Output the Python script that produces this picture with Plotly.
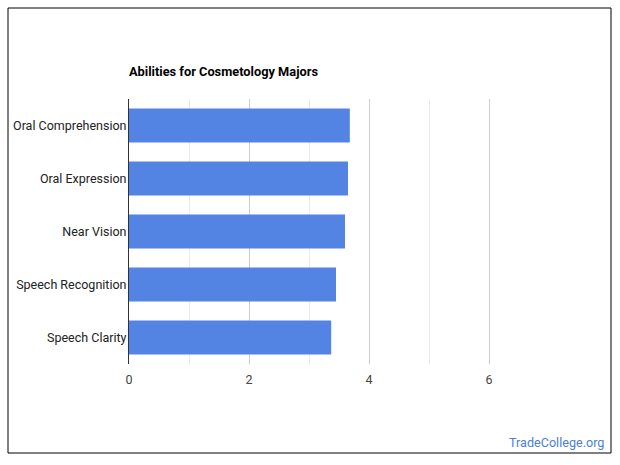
import plotly.graph_objects as go

categories = ["Oral Comprehension", "Oral Expression", "Near Vision", "Speech Recognition", "Speech Clarity"]
values = [3.68, 3.65, 3.6, 3.45, 3.37]
x_ticks = [0, 2, 4, 6]

W, H = 620, 465
L, R, T, B = 129, 71, 99, 101
pw, ph = W - L - R, H - T - B

def px(x):
    return (x - L) / pw

def py(y):
    return 1 - (y - T) / ph

fig = go.Figure(go.Bar(
    y=categories, x=values, orientation="h",
    marker=dict(color="#5384e4", line=dict(width=0)),
    hoverinfo="x+y",
))

fig.update_layout(
    width=W, height=H,
    margin=dict(l=L, r=R, t=T, b=B, autoexpand=False),
    paper_bgcolor="white", plot_bgcolor="white",
    font=dict(family="Roboto, Arial, sans-serif", size=12, color="#222"),
    bargap=0.36,
    showlegend=False,
    title=dict(text="<b>Abilities for Cosmetology Majors</b>", x=px(129), xref="paper",
               xanchor="left", y=1 - 72 / H, yanchor="middle",
               font=dict(size=12.8, color="#000")),
    xaxis=dict(range=[0, 7], tickvals=x_ticks, showgrid=True, gridcolor="#cccccc",
               zeroline=False, showline=False, ticks="", automargin=False,
               ticklabelstandoff=6,
               tickfont=dict(size=12.5, color="#444"),
               minor=dict(dtick=1, tick0=0, showgrid=True, gridcolor="#ebebeb")),
    yaxis=dict(categoryorder="array", categoryarray=categories[::-1],
               showline=True, linecolor="#333", linewidth=1, ticks="", automargin=False,
               ticklabelstandoff=-1,
               tickfont=dict(size=12.5, color="#222")),
    shapes=[dict(type="rect", xref="paper", yref="paper",
                 x0=px(8), x1=px(611), y0=py(453), y1=py(8),
                 line=dict(color="#000", width=1), fillcolor="rgba(0,0,0,0)", layer="above")],
    annotations=[dict(text="TradeCollege.org", xref="paper", yref="paper",
                      x=px(606), y=py(442), xanchor="right", yanchor="middle",
                      showarrow=False, font=dict(size=12.6, color="#4a7fd6"))],
)

fig.write_html("out.html")
